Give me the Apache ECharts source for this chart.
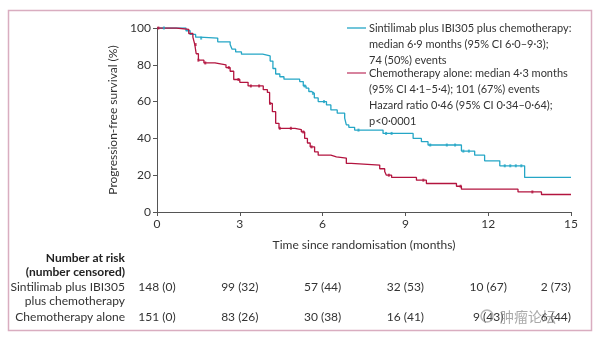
<!DOCTYPE html>
<html><head><meta charset="utf-8">
<script src="https://cdn.jsdelivr.net/npm/echarts@6/dist/echarts.min.js"></script>
<style>html,body{margin:0;padding:0;background:#fff}#c{width:600px;height:339px}</style>
</head><body><div id="c"></div>
<script>
// KM step data: [time (months), survival % after the step]
const comboCurve = [[0,100],[1.05,98.5],[1.2,96.5],[1.4,95],[1.55,94.5],[2.2,92.5],[2.65,91],[2.72,88.5],[2.85,87],[3.06,85.8],[3.83,84.8],[4.1,82],[4.2,78],[4.3,75],[4.45,73.5],[4.6,72.2],[5.17,70.9],[5.3,68.5],[5.4,67.3],[5.5,65.5],[5.6,64.5],[5.7,62],[5.84,60],[6.14,58.2],[6.3,55.5],[6.53,53.7],[6.8,51],[6.86,47.3],[6.95,46],[7.16,44.5],[8.19,42.7],[9.28,40],[9.58,38.2],[9.82,36.4],[11.03,33.1],[11.51,30.9],[11.87,27.8],[12.42,25.1],[13.32,18.8],[15,18.8]];
const chemoCurve = [[0,100],[0.7,99.3],[1.15,97],[1.3,95],[1.37,91],[1.42,86],[1.5,82.5],[1.7,81],[2.1,80],[2.5,78.5],[2.65,76.5],[2.78,72],[3.0,70.5],[3.3,68.5],[3.85,66.5],[4.0,65],[4.08,59],[4.18,54.5],[4.3,48.2],[4.42,45.5],[5.0,44.8],[5.23,43.5],[5.35,40],[5.45,37.5],[5.55,35.4],[5.71,32.7],[5.84,30.9],[6.3,30],[6.5,29.3],[6.86,26.4],[7.04,25.5],[8.07,23.5],[8.25,22],[8.31,20],[8.5,18.8],[9.4,17.3],[9.76,15.5],[10.85,14],[11.03,12.4],[13.08,10.9],[13.93,9.5],[15,9.5]];
const comboCensor = [[0.25,100],[1.6,94.5],[5.35,68.5],[5.65,64.5],[6.05,60],[7.3,44.5],[8.3,42.7],[8.5,42.7],[9.9,36.4],[10.5,36.4],[10.8,36.4],[11.1,33.1],[11.3,33.1],[12.6,25.1],[12.8,25.1],[13.0,25.1],[13.2,25.1]];
const chemoCensor = [[0.05,100],[1.4,91],[1.5,82.5],[1.75,81],[2.6,78.5],[2.95,72],[3.4,68.5],[3.7,68.5],[4.1,59],[4.45,45.5],[4.85,45.5],[5.3,43.5],[5.6,35.4],[8.4,20],[9.65,17.3],[11.0,14],[13.6,10.9]];
const xTicks = [0,3,6,9,12,15];
const riskCombo = ['148 (0)','99 (32)','57 (44)','32 (53)','10 (67)','2 (73)'];
const riskChemo = ['151 (0)','83 (26)','30 (38)','16 (41)','9 (43)','6 (44)'];
const legendCombo = ['Sintilimab plus IBI305 plus chemotherapy:','median 6·9 months (95% CI 6·0–9·3);','74 (50%) events'];
const legendChemo = ['Chemotherapy alone: median 4·3 months','(95% CI 4·1–5·4); 101 (67%) events','Hazard ratio 0·46 (95% CI 0·34–0·64);','p<0·0001'];

const BLUE = '#25a6c6', RED = '#b3143f', AX = '#555', TXT = '#333';
const FONT = 'Lato';
const chart = echarts.init(document.getElementById('c'), null, {renderer:'canvas'});
const opt = {
  animation:false,
  grid:{left:157, right:29, top:28, bottom:127},
  xAxis:{type:'value', min:0, max:15, interval:3,
    name:'Time since randomisation (months)', nameLocation:'middle', nameGap:27,
    nameTextStyle:{fontFamily:FONT, fontSize:12, color:TXT},
    axisLine:{lineStyle:{color:AX,width:1}}, axisTick:{length:4,lineStyle:{color:AX}},
    axisLabel:{fontFamily:FONT, fontSize:12, color:TXT, margin:6}, splitLine:{show:false}},
  yAxis:{type:'value', min:0, max:100, interval:20,
    name:'Progression-free survival (%)', nameLocation:'middle', nameGap:35, nameRotate:90,
    nameTextStyle:{fontFamily:FONT, fontSize:12, color:TXT},
    axisLine:{show:true, lineStyle:{color:AX,width:1}}, axisTick:{show:true,length:4,lineStyle:{color:AX}},
    axisLabel:{fontFamily:FONT, fontSize:12, color:TXT, margin:6}, splitLine:{show:false}},
  series:[
    {type:'line', step:'end', data:comboCurve, symbol:'none', lineStyle:{color:BLUE,width:1.3}, z:3},
    {type:'line', step:'end', data:chemoCurve, symbol:'none', lineStyle:{color:RED,width:1.3}, z:3},
    {type:'scatter', data:comboCensor, symbol:'rect', symbolSize:[2,3], itemStyle:{color:BLUE}, z:4},
    {type:'scatter', data:chemoCensor, symbol:'rect', symbolSize:[2,3], itemStyle:{color:RED}, z:4}
  ]
};
chart.setOption(opt);

const g = [];
// frame
g.push({type:'rect', shape:{x:8.5,y:10.5,width:583,height:320}, style:{fill:null, stroke:'#d9adc0', lineWidth:1.5}, z:0});
// legend
const lx = 369, lh = 16, LF = '11px "'+FONT+'"';
g.push({type:'line', shape:{x1:347,y1:28,x2:366,y2:28}, style:{stroke:BLUE,lineWidth:1.3}});
legendCombo.forEach((s,i)=>g.push({type:'text', style:{text:s, x:lx, y:28+i*lh, textVerticalAlign:'middle', font:LF, fill:TXT}}));
g.push({type:'line', shape:{x1:347,y1:73,x2:366,y2:73}, style:{stroke:'#c2406a',lineWidth:1.3}});
legendChemo.forEach((s,i)=>g.push({type:'text', style:{text:s, x:lx, y:73+i*lh, textVerticalAlign:'middle', font:LF, fill:TXT}}));
// risk table
const rx = 125, TF = '12px "'+FONT+'"', BF = 'bold 12px "'+FONT+'"';
g.push({type:'text', style:{text:'Number at risk', x:rx, y:258, textAlign:'right', textVerticalAlign:'middle', font:BF, fill:'#222'}});
g.push({type:'text', style:{text:'(number censored)', x:rx, y:272, textAlign:'right', textVerticalAlign:'middle', font:BF, fill:'#222'}});
g.push({type:'text', style:{text:'Sintilimab plus IBI305', x:rx, y:287, textAlign:'right', textVerticalAlign:'middle', font:TF, fill:TXT}});
g.push({type:'text', style:{text:'plus chemotherapy', x:rx, y:301, textAlign:'right', textVerticalAlign:'middle', font:TF, fill:TXT}});
g.push({type:'text', style:{text:'Chemotherapy alone', x:rx, y:317, textAlign:'right', textVerticalAlign:'middle', font:TF, fill:TXT}});
xTicks.forEach((t,i)=>{
  const px = chart.convertToPixel({xAxisIndex:0}, t);
  const last = i === xTicks.length-1;
  const align = last ? 'right' : 'center';
  g.push({type:'text', style:{text:riskCombo[i], x:px, y:287, textAlign:align, textVerticalAlign:'middle', font:TF, fill:TXT}});
  g.push({type:'text', style:{text:riskChemo[i], x:px, y:317, textAlign:align, textVerticalAlign:'middle', font:TF, fill:TXT}});
});
// watermark
g.push({type:'circle', shape:{cx:487,cy:316,r:6}, style:{fill:null, stroke:'rgba(150,150,150,0.7)', lineWidth:1.5}, z:20});
g.push({type:'text', style:{text:'肿瘤论坛', x:500, y:317, textVerticalAlign:'middle', font:'14px "Noto Sans CJK SC"', fill:'rgba(140,140,140,0.75)'}, z:20});
chart.setOption({graphic:g});
</script></body></html>
